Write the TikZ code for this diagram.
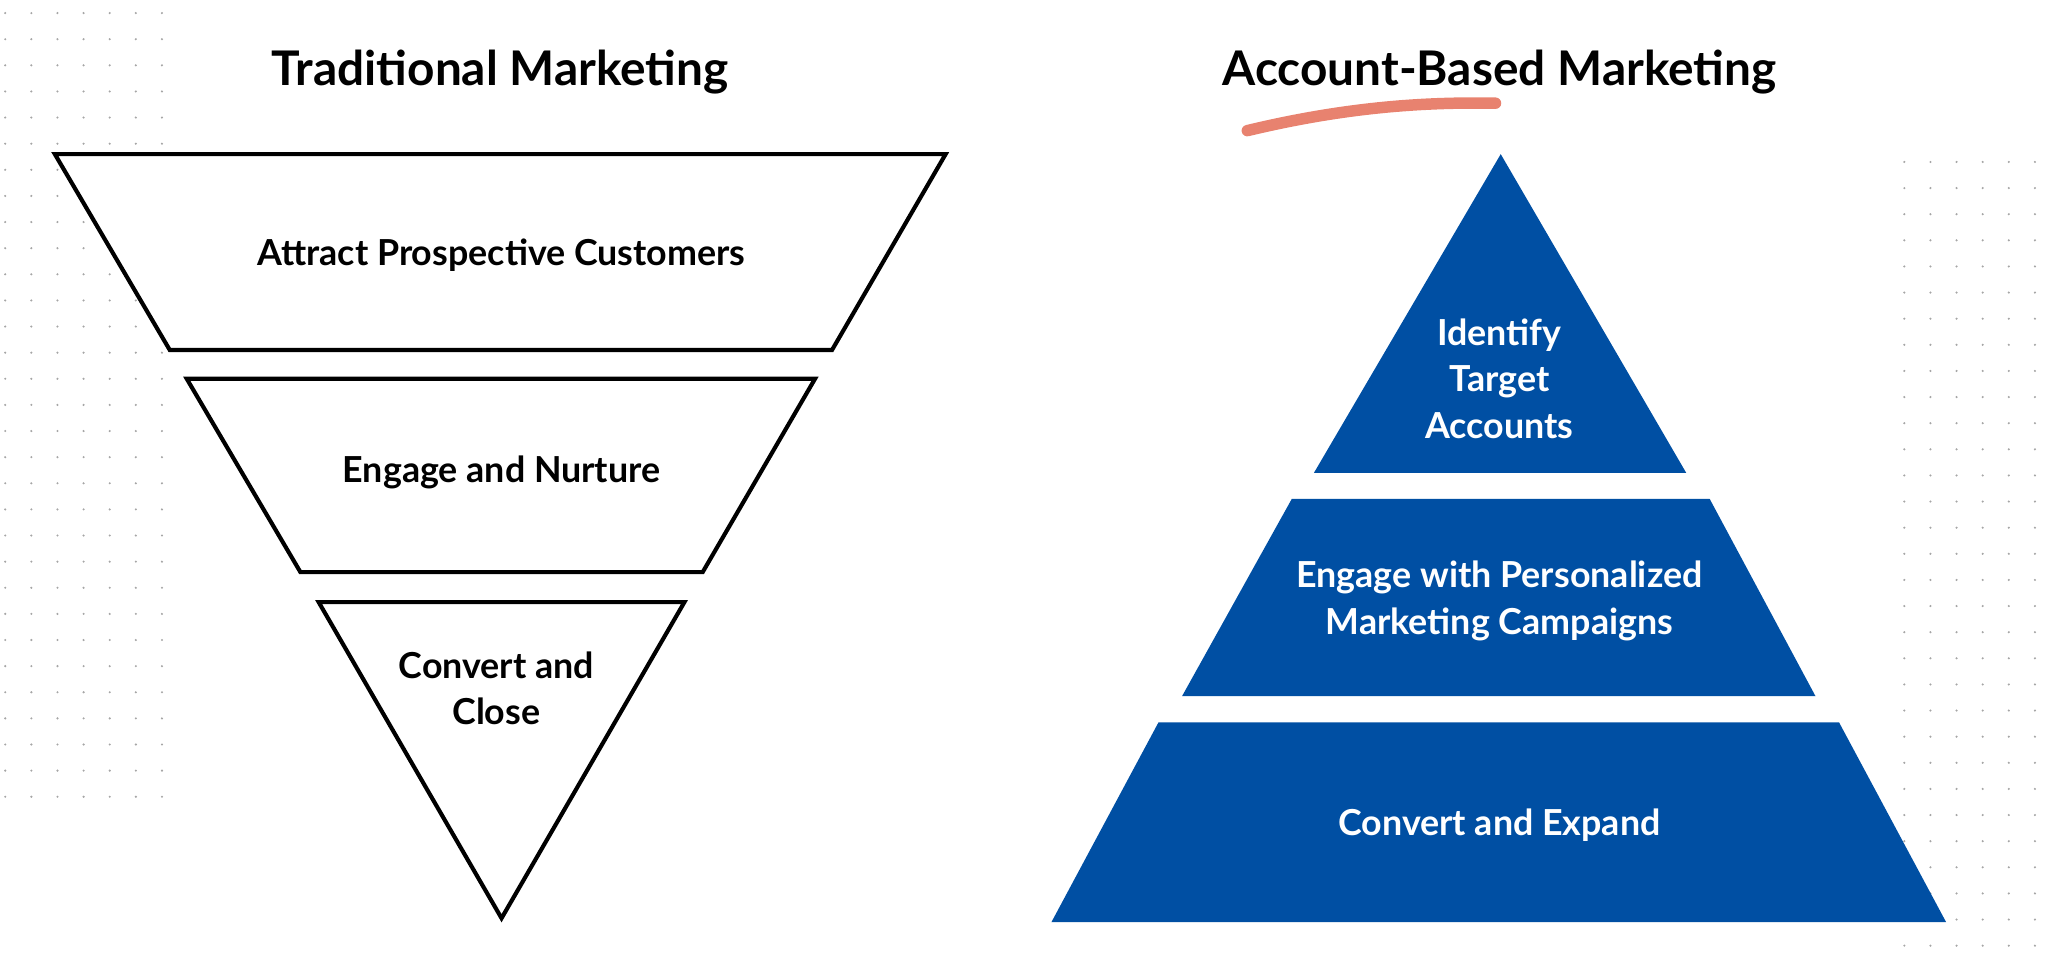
\documentclass[tikz,border=0pt]{standalone}
\usepackage{fontspec}
\setmainfont{Lato}
\definecolor{abmblue}{HTML}{004FA3}
\definecolor{swash}{HTML}{E8826F}
\tikzset{
  funnel/.style={draw=black,line width=0.9pt,fill=white},
  pyr/.style={fill=abmblue},
  lbl/.style={font=\bfseries\fontsize{7.8}{10.2}\selectfont,align=center},
  ttl/.style={font=\bfseries\fontsize{10.4}{12}\selectfont},
  dot/.style={fill=gray!70}
}
\begin{document}
\begin{tikzpicture}[x=0.01cm,y=-0.01cm]
\useasboundingbox (0,0) rectangle (1568,735);

% dotted background
\foreach \i in {0,...,6} \foreach \j in {0,...,30}
  \fill[dot] (4+\i*20,10+\j*20) circle (0.9);
\foreach \i in {0,...,5} \foreach \j in {0,...,30}
  \fill[dot] (1458+\i*20,124+\j*20) circle (0.9);

% titles
\node[ttl] (tradtitle) at (383,55) {Traditional Marketing};
\node[ttl] (abmtitle) at (1148,55) {Account-Based Marketing};
\draw[swash,line width=2.5pt,line cap=round] (955,100) .. controls (1030,82) and (1090,78) .. (1145,79);

% funnel
\draw[funnel] (42,118) -- (724,118) -- (637,268) -- (130,268) -- cycle;
\draw[funnel] (143,290) -- (624,290) -- (538,438) -- (230,438) -- cycle;
\draw[funnel] (244,461) -- (524,461) -- (384,703) -- cycle;
\node[lbl] (attract) at (384,195) {Attract Prospective Customers};
\node[lbl] (nurture) at (384,362) {Engage and Nurture};
\node[lbl] (close) at (380,527) {Convert and\\Close};

% pyramid
\fill[pyr] (1149,118) -- (1291,362) -- (1006,362) -- cycle;
\fill[pyr] (989,382) -- (1309,382) -- (1390,533) -- (905,533) -- cycle;
\fill[pyr] (887,553) -- (1408,553) -- (1490,706) -- (805,706) -- cycle;
\node[lbl,text=white] (identify) at (1148,290) {Identify\\Target\\Accounts};
\node[lbl,text=white] (engage) at (1148,460) {Engage with Personalized\\Marketing Campaigns};
\node[lbl,text=white] (expand) at (1148,632) {Convert and Expand};
\end{tikzpicture}
\end{document}
